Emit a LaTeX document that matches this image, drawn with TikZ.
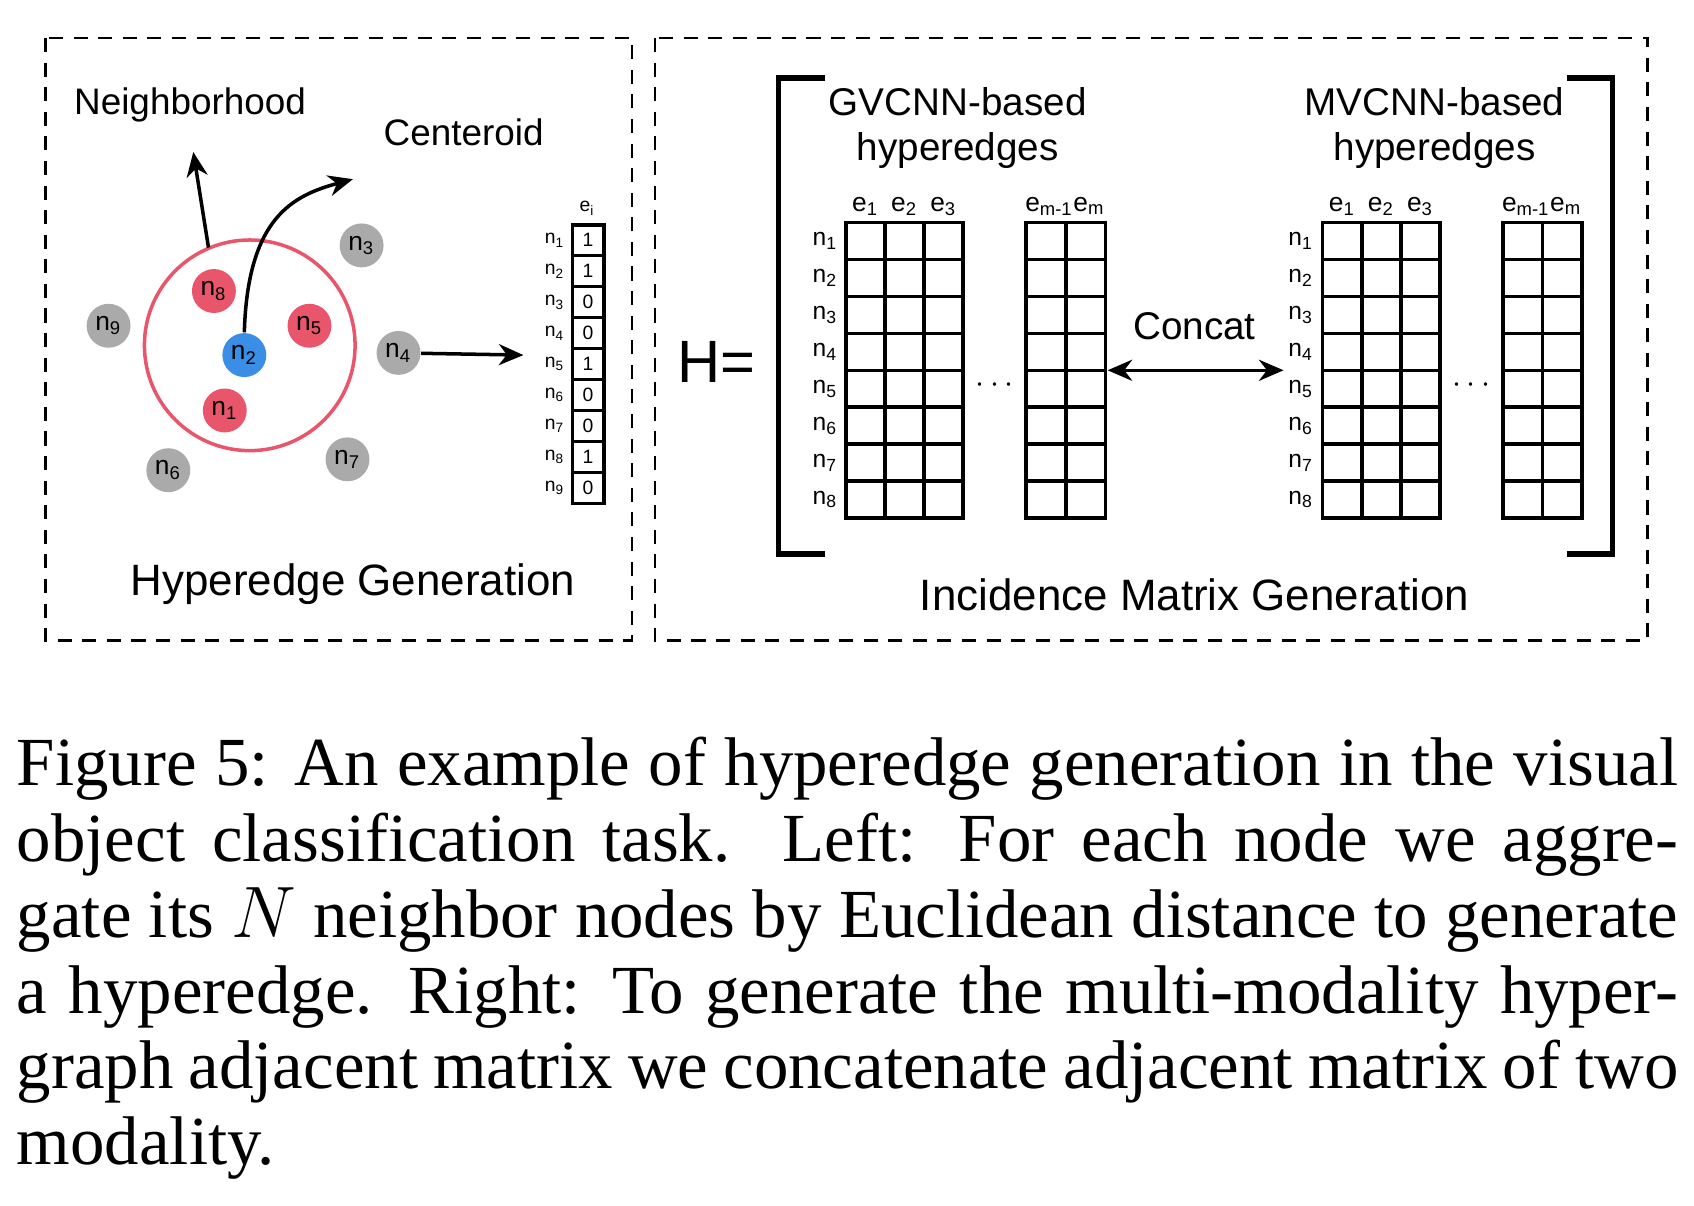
\documentclass[tikz,border=0pt]{standalone}
\usepackage{fontspec}
\setmainfont{Liberation Serif}
\newfontfamily\sansf{Liberation Sans}
\usetikzlibrary{positioning,arrows.meta}

\definecolor{nodered}{HTML}{E9566C}
\definecolor{nodeblue}{HTML}{3A8EE6}
\definecolor{nodegray}{HTML}{AAAAAA}

\tikzset{
  vtx/.style={circle, minimum size=12.5pt, inner sep=0pt, font=\sansf\fontsize{7.5}{8}\selectfont},
  redvtx/.style={vtx, fill=nodered},
  bluevtx/.style={vtx, fill=nodeblue},
  grayvtx/.style={vtx, fill=nodegray},
  frame/.style={dashed, line width=0.7pt, dash pattern=on 4pt off 3pt},
  title/.style={font=\sansf\fontsize{10.5}{12}\selectfont, align=center},
  tiny/.style={font=\sansf\fontsize{5.5}{6}\selectfont, inner sep=0pt},
  cell/.style={line width=1pt},
  arr/.style={-{Stealth[length=7pt,width=6pt]}, line width=1pt}
}

\begin{document}
\begin{tikzpicture}[x=0.01086cm, y=-0.01086cm]

        % Bounding box
        \useasboundingbox (0,0) rectangle (1560,1110);

        % Frames
        \draw[frame] (42,35) rectangle (582,590);
        \draw[frame] (603,35) rectangle (1517,590);

        % Neighborhood circle
        \draw[nodered, line width=1pt] (230,318) circle[radius=97];

        % Vertices
        \node[redvtx]  (n8) at (197,268) {n\textsubscript{8}};
        \node[redvtx]  (n5) at (285,300) {n\textsubscript{5}};
        \node[bluevtx] (n2) at (225,327) {n\textsubscript{2}};
        \node[redvtx]  (n1) at (207,378) {n\textsubscript{1}};
        \node[grayvtx] (n3) at (333,226) {n\textsubscript{3}};
        \node[grayvtx] (n9) at (100,300) {n\textsubscript{9}};
        \node[grayvtx] (n4) at (367,325) {n\textsubscript{4}};
        \node[grayvtx] (n6) at (155,433) {n\textsubscript{6}};
        \node[grayvtx] (n7) at (320,423) {n\textsubscript{7}};

        % Labels
        \node[title] (nbh) at (175,97) {Neighborhood};
        \node[title] (cen) at (427,122) {Centeroid};
        \coordinate (ring) at (192,228);
        \coordinate (nbhtip) at (178,140);
        \coordinate (centip) at (325,165);
        \draw[arr] (ring) -- (nbhtip);
        \draw[arr] (n2.north) .. controls (228,200) and (270,180) .. (centip);

        % Incidence vector
        \coordinate (vec) at (482,327);
        \draw[arr] (n4) -- (vec);
        \node[tiny] (ei) at (541,192) {e\textsubscript{i}};
        \foreach \v [count=\i] in {1,1,0,0,1,0,0,1,0} {
          \draw[cell] (527,{207+(\i-1)*28.5}) rectangle (556,{207+\i*28.5});
          \node[tiny] at (541.5,{207+(\i-0.5)*28.5}) {\v};
          \node[tiny] at (511,{207+(\i-0.5)*28.5}) {n\textsubscript{\i}};
        }
        \node[font=\sansf\fontsize{12.5}{14}\selectfont] (hg) at (325,538) {Hyperedge Generation};

        % H = [ ... ]
        \node[font=\sansf\fontsize{17}{18}\selectfont] (H) at (660,333) {H=};
        \draw[line width=1.6pt] (760,72) -- (717,72) -- (717,510) -- (760,510);
        \draw[line width=1.6pt] (1443,72) -- (1485,72) -- (1485,510) -- (1443,510);

        % Matrices
        \foreach \ox/\lx/\name in {779/760/GVCNN, 1218/1198/MVCNN} {
          \foreach \r in {0,...,7} {
            \foreach \c in {0,1,2}
              \draw[cell] ({\ox+\c*36},{205+\r*34}) rectangle ({\ox+(\c+1)*36},{205+(\r+1)*34});
            \foreach \c in {0,1}
              \draw[cell] ({\ox+166+\c*36.5},{205+\r*34}) rectangle ({\ox+166+(\c+1)*36.5},{205+(\r+1)*34});
            \node[font=\sansf\fontsize{7}{8}\selectfont, inner sep=0pt] at (\lx,{222+\r*34})
              {n\textsubscript{\pgfmathparse{int(\r+1)}\pgfmathresult}};
          }
          \foreach \c in {1,2,3}
            \node[font=\sansf\fontsize{7.5}{8}\selectfont, inner sep=0pt] at ({\ox+18+(\c-1)*36},190) {e\textsubscript{\c}};
          \node[font=\sansf\fontsize{7.5}{8}\selectfont, inner sep=0pt] at ({\ox+202},190) {e\textsubscript{m-1}e\textsubscript{m}};
          \node[font=\sansf\fontsize{9}{9}\selectfont] at ({\ox+137},355) {$\cdots$};
          \node[title, font=\sansf\fontsize{11}{13}\selectfont] at ({\ox+103},118) {\name-based\\hyperedges};
        }

        % Concat
        \coordinate (cl) at (1020,341);
        \coordinate (cr) at (1182,341);
        \draw[{Stealth[length=7pt,width=6pt]}-{Stealth[length=7pt,width=6pt]}, line width=1pt] (cl) -- (cr);
        \node[title, font=\sansf\fontsize{11}{13}\selectfont] (concat) at (1100,300) {Concat};
        \node[font=\sansf\fontsize{12.5}{14}\selectfont] (img) at (1100,548) {Incidence Matrix Generation};

        % Caption
        \node[anchor=north west, text width=16.62cm, align=justify, inner sep=0pt,
              font=\fontsize{19.6}{21.6}\selectfont] (cap) at (15,678)
          {Figure 5: An example of hyperedge generation in the visual object classification task. Left: For each node we aggregate its $N$ neighbor nodes by Euclidean distance to generate a hyperedge. Right: To generate the multi-modality hypergraph adjacent matrix we concatenate adjacent matrix of two modality.};

\end{tikzpicture}
\end{document}
